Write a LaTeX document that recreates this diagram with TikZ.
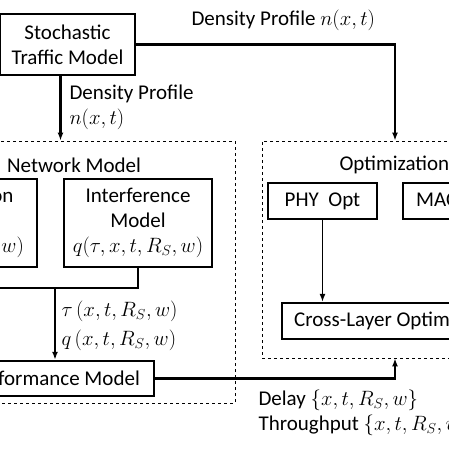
\documentclass[tikz,border=0pt]{standalone}
\usepackage{fontspec}
\setmainfont{Carlito}
\usetikzlibrary{positioning,calc,arrows.meta}

\begin{document}
\begin{tikzpicture}[x=1pt, y=-1pt,
	every node/.style={font=\fontsize{21}{25}\selectfont},
	box/.style={draw, line width=2.4pt, align=center, inner sep=0pt},
	dashbox/.style={draw, dashed, line width=0.8pt, inner sep=0pt},
	conn/.style={line width=2.4pt},
	arrow/.style={line width=2.4pt, -{Latex[length=8pt,width=6pt]}},
	thinarrow/.style={line width=1.2pt, -{Latex[length=8pt,width=6pt]}}]
	\useasboundingbox (0,0) rectangle (449,449);
	\clip (0,0) rectangle (449,449);
	\node [box, minimum width=135pt, minimum height=61pt] (traffic) at (67.5,44.5) {Stochastic\\Traffic Model};
	% network side
	\node [dashbox, minimum width=245pt, minimum height=262pt] (network) at (112.5,272) {};
	\node (netlabel) at (74,165) {Network Model};
	\node [box, minimum width=157pt, minimum height=88pt] (trans) at (-41.5,223) {Transmission\\Model\\$p(x,t,R_S,\tau,w)$};
	\node [box, minimum width=148pt, minimum height=88pt] (interf) at (138,223) {Interference\\Model\\$q(\tau,x,t,R_S,w)$};
	\node [box, anchor=east, inner xsep=14pt, minimum height=35pt] (perf) at (155,378.5) {Performance Model};
	\coordinate (join) at (55,288);
	\node [anchor=west] (taulabel) at (58,311) {$\tau\,(x,t,R_S,w)$};
	\node [anchor=west] (qlabel) at (58,340) {$q\,(x,t,R_S,w)$};
	% optimization side
	\node [dashbox, minimum width=266pt, minimum height=217pt] (optim) at (395,249.5) {};
	\node [anchor=west] (optlabel) at (336,165) {Optimization};
	\node [box, minimum width=109pt, minimum height=36pt] (phy) at (322.5,201) {PHY\ \ Opt};
	\node [box, minimum width=109pt, minimum height=36pt] (mac) at (457.5,201) {MAC\ \ Opt};
	\node [box, anchor=west, inner xsep=12pt, minimum height=36pt] (cross) at (281,321) {Cross-Layer Optimization};
	% labels
	\node [anchor=west] (toplabel) at (188,20) {Density Profile $n(x,t)$};
	\node [anchor=west, align=left] (leftlabel) at (66,107) {Density Profile\\$n(x,t)$};
	\node [anchor=north west, align=left] (perflabel) at (255,386) {Delay $\{x,t,R_S,w\}$\\Throughput $\{x,t,R_S,w\}$};
	% connectors
	\draw [arrow] ([xshift=-7pt]traffic.south) -- ([xshift=-7pt]traffic.south |- network.north);
	\draw [arrow] (traffic.east) -| (optim.north);
	\draw [conn] (trans.south) |- (join) -| (interf.south);
	\draw [arrow] (join) -- (join |- perf.north);
	\draw [arrow] (perf.east) -| (optim.south);
	\draw [thinarrow] (phy.south) -- (phy.south |- cross.north);
\end{tikzpicture}
\end{document}
